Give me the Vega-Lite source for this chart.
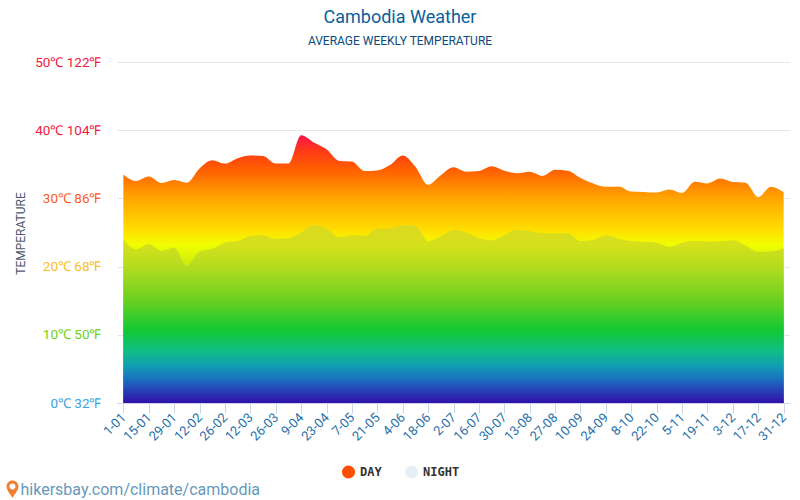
{
  "$schema": "https://vega.github.io/schema/vega-lite/v6.json",
  "autosize": "none",
  "padding": {"left": 117, "top": 62, "right": 10, "bottom": 97},
  "width": 673,
  "height": 341,
  "background": "white",
  "title": {
    "text": "Cambodia Weather",
    "subtitle": "AVERAGE WEEKLY TEMPERATURE",
    "anchor": "middle",
    "dx": -53.5,
    "offset": 8,
    "font": "Roboto",
    "fontSize": 18,
    "fontWeight": "normal",
    "color": "#0b5f9b",
    "subtitleFont": "Roboto",
    "subtitleFontSize": 12,
    "subtitleColor": "#0a4a7e",
    "subtitlePadding": 9
  },
  "data": {
    "values": [
      {"week": "1-01", "DAY": 33.5, "NIGHT": 24.0},
      {"week": "8-01", "DAY": 32.55, "NIGHT": 22.5},
      {"week": "15-01", "DAY": 33.2, "NIGHT": 23.3},
      {"week": "22-01", "DAY": 32.26, "NIGHT": 22.3},
      {"week": "29-01", "DAY": 32.7, "NIGHT": 22.8},
      {"week": "5-02", "DAY": 32.3, "NIGHT": 20.1},
      {"week": "12-02", "DAY": 34.4, "NIGHT": 22.2},
      {"week": "19-02", "DAY": 35.6, "NIGHT": 22.6},
      {"week": "26-02", "DAY": 35.1, "NIGHT": 23.55},
      {"week": "5-03", "DAY": 35.9, "NIGHT": 23.75},
      {"week": "12-03", "DAY": 36.3, "NIGHT": 24.5},
      {"week": "19-03", "DAY": 36.2, "NIGHT": 24.6},
      {"week": "26-03", "DAY": 35.1, "NIGHT": 24.05},
      {"week": "2-04", "DAY": 35.1, "NIGHT": 24.15},
      {"week": "9-04", "DAY": 39.25, "NIGHT": 25.0},
      {"week": "16-04", "DAY": 38.2, "NIGHT": 26.1},
      {"week": "23-04", "DAY": 37.2, "NIGHT": 25.5},
      {"week": "30-04", "DAY": 35.5, "NIGHT": 24.3},
      {"week": "7-05", "DAY": 35.4, "NIGHT": 24.6},
      {"week": "14-05", "DAY": 34.0, "NIGHT": 24.5},
      {"week": "21-05", "DAY": 34.1, "NIGHT": 25.6},
      {"week": "28-05", "DAY": 34.9, "NIGHT": 25.6},
      {"week": "4-06", "DAY": 36.3, "NIGHT": 26.1},
      {"week": "11-06", "DAY": 34.65, "NIGHT": 26.0},
      {"week": "18-06", "DAY": 32.0, "NIGHT": 23.75},
      {"week": "25-06", "DAY": 33.4, "NIGHT": 24.4},
      {"week": "2-07", "DAY": 34.55, "NIGHT": 25.35},
      {"week": "9-07", "DAY": 33.9, "NIGHT": 25.0},
      {"week": "16-07", "DAY": 34.0, "NIGHT": 24.2},
      {"week": "23-07", "DAY": 34.7, "NIGHT": 23.85},
      {"week": "30-07", "DAY": 34.05, "NIGHT": 24.6},
      {"week": "6-08", "DAY": 33.7, "NIGHT": 25.35},
      {"week": "13-08", "DAY": 33.9, "NIGHT": 25.2},
      {"week": "20-08", "DAY": 33.3, "NIGHT": 24.9},
      {"week": "27-08", "DAY": 34.2, "NIGHT": 24.9},
      {"week": "3-09", "DAY": 34.05, "NIGHT": 24.9},
      {"week": "10-09", "DAY": 33.0, "NIGHT": 23.75},
      {"week": "17-09", "DAY": 32.2, "NIGHT": 23.9},
      {"week": "24-09", "DAY": 31.7, "NIGHT": 24.6},
      {"week": "1-10", "DAY": 31.75, "NIGHT": 24.1},
      {"week": "8-10", "DAY": 31.0, "NIGHT": 23.75},
      {"week": "15-10", "DAY": 30.95, "NIGHT": 23.65},
      {"week": "22-10", "DAY": 30.85, "NIGHT": 23.5},
      {"week": "29-10", "DAY": 31.3, "NIGHT": 22.9},
      {"week": "5-11", "DAY": 30.8, "NIGHT": 23.5},
      {"week": "12-11", "DAY": 32.45, "NIGHT": 23.75},
      {"week": "19-11", "DAY": 32.2, "NIGHT": 23.65},
      {"week": "26-11", "DAY": 32.9, "NIGHT": 23.7},
      {"week": "3-12", "DAY": 32.4, "NIGHT": 23.85},
      {"week": "10-12", "DAY": 32.3, "NIGHT": 23.1},
      {"week": "17-12", "DAY": 30.2, "NIGHT": 22.15},
      {"week": "24-12", "DAY": 31.7, "NIGHT": 22.2},
      {"week": "31-12", "DAY": 30.9, "NIGHT": 22.7}
    ]
  },
  "transform": [
    {"fold": ["DAY", "NIGHT"], "as": ["series", "temp"]}
  ],
  "encoding": {
    "x": {
      "field": "week",
      "type": "ordinal",
      "sort": null,
      "scale": {"type": "point", "padding": 0.5},
      "axis": {
        "values": ["1-01", "15-01", "29-01", "12-02", "26-02", "12-03", "26-03", "9-04", "23-04", "7-05", "21-05", "4-06", "18-06", "2-07", "16-07", "30-07", "13-08", "27-08", "10-09", "24-09", "8-10", "22-10", "5-11", "19-11", "3-12", "17-12", "31-12"],
        "title": "hikersbay.com/climate/cambodia",
        "titleFont": "Roboto",
        "titleFontSize": 16,
        "titleFontWeight": "normal",
        "titleColor": "#6699bb",
        "titleAlign": "left",
        "titleBaseline": "middle",
        "titleX": -97,
        "titleY": 86,
        "domainColor": "#ccd6eb",
        "tickColor": "#ccd6eb",
        "tickSize": 10,
        "grid": false,
        "labelAngle": -45,
        "labelAlign": "right",
        "labelBaseline": "middle",
        "labelFont": "Roboto",
        "labelFontSize": 13,
        "labelColor": "#1f6fa8",
        "labelPadding": 2,
        "labelOverlap": false
      }
    },
    "y": {
      "field": "temp",
      "type": "quantitative",
      "stack": null,
      "scale": {"domain": [0, 50]},
      "axis": {
        "values": [0, 10, 20, 30, 40, 50],
        "title": "TEMPERATURE",
        "titleFont": "Roboto",
        "titleFontSize": 12,
        "titleFontWeight": "normal",
        "titleColor": "#4d5a70",
        "titleX": -90,
        "titleY": 171,
        "titleAlign": "center",
        "domain": false,
        "ticks": false,
        "gridColor": "#e6e6e6",
        "labelFont": "Roboto",
        "labelFontSize": 13.5,
        "labelPadding": 16,
        "labelExpr": "datum.value + '℃ ' + (datum.value * 1.8 + 32) + '℉'",
        "labelColor": {
          "condition": [
            {"test": "datum.value == 0", "value": "#3ba3e0"},
            {"test": "datum.value == 10", "value": "#70d020"},
            {"test": "datum.value == 20", "value": "#f8c020"},
            {"test": "datum.value == 30", "value": "#ff5a1f"}
          ],
          "value": "#f0193f"
        }
      }
    }
  },
  "layer": [
    {
      "transform": [{"filter": "datum.series == 'DAY'"}],
      "mark": {
        "type": "area",
        "interpolate": "monotone",
        "color": {
          "gradient": "linear", "x1": 0, "y1": 1, "x2": 0, "y2": 0,
          "stops": [
            {"offset": 0, "color": "#3010a8"},
            {"offset": 0.03, "color": "#2a2eb0"},
            {"offset": 0.086, "color": "#1c6cc0"},
            {"offset": 0.142, "color": "#10a0b0"},
            {"offset": 0.198, "color": "#10bf80"},
            {"offset": 0.272, "color": "#12c832"},
            {"offset": 0.384, "color": "#6cd41e"},
            {"offset": 0.507, "color": "#c8e810"},
            {"offset": 0.59, "color": "#f0ff00"},
            {"offset": 0.645, "color": "#ffdf00"},
            {"offset": 0.765, "color": "#ffa500"},
            {"offset": 0.87, "color": "#ff6000"},
            {"offset": 0.944, "color": "#ff3a18"},
            {"offset": 1, "color": "#f5154a"}
          ]
        }
      }
    },
    {
      "transform": [{"filter": "datum.series == 'NIGHT'"}],
      "mark": {
        "type": "area",
        "interpolate": "monotone",
        "color": {
          "gradient": "linear", "x1": 0, "y1": 1, "x2": 0, "y2": 0,
          "stops": [
            {"offset": 0, "color": "#3010a8"},
            {"offset": 0.045, "color": "#2a2eb0"},
            {"offset": 0.129, "color": "#1c6cc0"},
            {"offset": 0.213, "color": "#10a0b0"},
            {"offset": 0.298, "color": "#10bf80"},
            {"offset": 0.41, "color": "#12c832"},
            {"offset": 0.579, "color": "#6cd020"},
            {"offset": 0.764, "color": "#b4dc20"},
            {"offset": 0.888, "color": "#d5e01a"},
            {"offset": 1, "color": "#dcd820"}
          ]
        }
      }
    },
    {
      "mark": {"type": "circle", "opacity": 0},
      "encoding": {
        "color": {
          "field": "series",
          "type": "nominal",
          "scale": {"domain": ["DAY", "NIGHT"], "range": ["#ff4e00", "#e8eef5"]},
          "legend": {
            "title": null,
            "orient": "none",
            "legendX": 224,
            "legendY": 402,
            "direction": "horizontal",
            "columns": 2,
            "columnPadding": 22,
            "symbolType": "circle",
            "symbolSize": 170,
            "symbolOpacity": 1,
            "labelFont": "DejaVu Sans Mono",
            "labelFontSize": 12,
            "labelFontWeight": "bold",
            "labelColor": "#333333"
          }
        }
      }
    },
    {
      "mark": {"type": "point", "filled": true, "opacity": 0, "color": "#f08030"},
      "encoding": {
        "shape": {
          "datum": "pin",
          "scale": {
            "domain": ["pin"],
            "range": ["M0,1 C-0.25,0.55 -0.7,0.1 -0.7,-0.35 A0.7,0.7 0 1 1 0.7,-0.35 C0.7,0.1 0.25,0.55 0,1 Z M0,-0.7 A0.35,0.35 0 1 0 0,0 A0.35,0.35 0 1 0 0,-0.7 Z"]
          },
          "legend": {
            "title": null,
            "orient": "none",
            "legendX": -114,
            "legendY": 418,
            "symbolSize": 289,
            "symbolOpacity": 1,
            "symbolStrokeColor": "transparent",
            "labelExpr": "''"
          }
        }
      }
    }
  ],
  "config": {"view": {"stroke": null}}
}
